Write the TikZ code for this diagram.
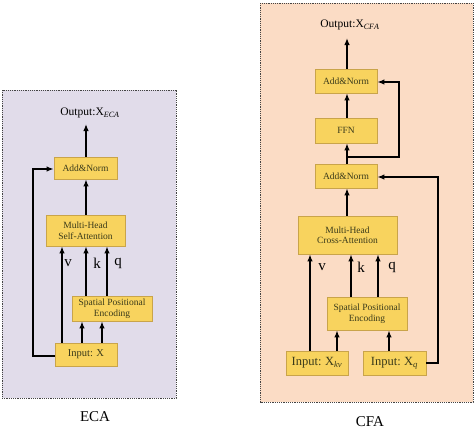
\documentclass[tikz,border=0pt]{standalone}
\usepackage{fontspec}
\setmainfont{Liberation Serif}
\usetikzlibrary{arrows.meta}
\definecolor{lav}{HTML}{E1DCEA}
\definecolor{peach}{HTML}{FBDCC5}
\definecolor{boxfill}{HTML}{F8D35E}
\definecolor{boxline}{HTML}{C9A44A}
\definecolor{boxtext}{HTML}{3A3A1A}
\definecolor{panelline}{HTML}{444444}
\tikzset{
  blk/.style={draw=boxline, line width=0.8pt, fill=boxfill, text=boxtext, inner sep=0pt, align=center, font=\fontsize{9.5}{10.5}\selectfont},
  inbox/.style={blk, font=\fontsize{12.5}{13}\selectfont},
  panel/.style={draw=panelline, line width=1pt, dash pattern=on 1.2pt off 1pt},
  arr/.style={line width=1.3pt, -{Latex[length=7pt,width=5.5pt]}},
  lbl/.style={font=\fontsize{15}{16}\selectfont},
  captext/.style={font=\fontsize{15}{16}\selectfont},
  outtext/.style={font=\fontsize{11.5}{12}\selectfont},
}
\begin{document}
\begin{tikzpicture}[x=1pt,y=-1pt]
\useasboundingbox (0,0) rectangle (474,429);
% panels
\fill[lav] (2,90) rectangle (176,398);
\draw[panel] (2,90) rectangle (176,398);
\fill[peach] (260,3) rectangle (473,402);
\draw[panel] (260,3) rectangle (473,402);

% ---- ECA ----
\node[blk, minimum width=63pt, minimum height=22pt] (an1) at (85.5,168) {Add\&Norm};
\node[blk, minimum width=79pt, minimum height=31pt] (mhsa) at (85.5,230.5) {Multi-Head\\Self-Attention};
\node[blk, minimum width=80pt, minimum height=25pt] (spe1) at (112,308.5) {Spatial Positional\\Encoding};
\node[inbox, minimum width=62pt, minimum height=23pt, font=\fontsize{10.5}{12}\selectfont] (in1) at (86,354.5) {Input: X};
\node[outtext] (out1) at (90,113) {Output:X$_{\mathit{ECA}}$};
\coordinate (out1b) at (86,124);
\node[lbl] (v1) at (68,263) {v};
\node[lbl] (k1) at (97,263) {k};
\node[lbl] (q1) at (118,263) {q};
\node[captext] (eca) at (95,417) {ECA};

\draw[arr] (in1.north -| 62,0) -- (mhsa.south -| 62,0);
\draw[arr] (spe1.north -| 86,0) -- (mhsa.south -| 86,0);
\draw[arr] (spe1.north -| 107,0) -- (mhsa.south -| 107,0);
\draw[arr] (in1.north -| 82,0) -- (spe1.south -| 82,0);
\draw[arr] (in1.north -| 102,0) -- (spe1.south -| 102,0);
\draw[arr] (mhsa.north -| 86,0) -- (an1.south -| 86,0);
\draw[arr] (an1.north -| 86,0) -- (out1b);
\draw[arr] (in1.west |- 0,356) -- (33,356) -- (33,169) -- (an1.west |- 0,169);

% ---- CFA ----
\node[blk, minimum width=62pt, minimum height=24pt] (an2t) at (346,81) {Add\&Norm};
\node[blk, minimum width=62pt, minimum height=25pt] (ffn) at (346,130.5) {FFN};
\node[blk, minimum width=62pt, minimum height=24pt] (an2b) at (346,176) {Add\&Norm};
\node[blk, minimum width=99pt, minimum height=38pt] (mhca) at (347.5,235) {Multi-Head\\Cross-Attention};
\node[blk, minimum width=80pt, minimum height=33pt] (spe2) at (367,313.5) {Spatial Positional\\Encoding};
\node[inbox, minimum width=62pt, minimum height=24pt] (inkv) at (317,363) {Input:\;X$_{\mathit{kv}}$};
\node[inbox, minimum width=63pt, minimum height=24pt] (inq) at (394.5,363) {Input:\;X$_{\mathit{q}}$};
\node[outtext] (out2) at (350,25) {Output:X$_{\mathit{CFA}}$};
\coordinate (out2b) at (347,38);
\node[lbl] (v2) at (322,267) {v};
\node[lbl] (k2) at (361,267) {k};
\node[lbl] (q2) at (392,267) {q};
\node[captext] (cfa) at (370,422) {CFA};

\draw[arr] (inkv.north -| 310,0) -- (mhca.south -| 310,0);
\draw[arr] (spe2.north -| 351,0) -- (mhca.south -| 351,0);
\draw[arr] (spe2.north -| 378,0) -- (mhca.south -| 378,0);
\draw[arr] (inkv.north -| 337,0) -- (spe2.south -| 337,0);
\draw[arr] (inq.north -| 389,0) -- (spe2.south -| 389,0);
\draw[arr] (mhca.north -| 347,0) -- (an2b.south -| 347,0);
\draw[arr] (an2b.north -| 347,0) -- (ffn.south -| 347,0);
\draw[arr] (ffn.north -| 347,0) -- (an2t.south -| 347,0);
\draw[arr] (an2t.north -| 347,0) -- (out2b);
\coordinate (j) at (347,157);
\draw[arr] (j) -- (399,157) -- (399,82) -- (an2t.east |- 0,82);
\draw[arr] (inq.east |- 0,363) -- (438,363) -- (438,177) -- (an2b.east |- 0,177);
\end{tikzpicture}
\end{document}
